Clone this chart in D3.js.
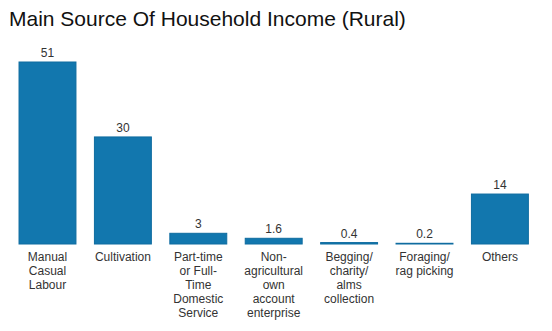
<!DOCTYPE html>
<html>
<head>
<meta charset="utf-8">
<script src="https://cdn.jsdelivr.net/npm/d3@7"></script>
<style>
  html, body { margin: 0; padding: 0; background: #fff; }
  svg { display: block; font-family: "Liberation Sans", Arial, Helvetica, sans-serif; }
</style>
</head>
<body>
<svg id="chart" width="552" height="331"></svg>
<script>
const title = "Main Source Of Household Income (Rural)";
const categories = [
  "Manual\nCasual\nLabour",
  "Cultivation",
  "Part-time\nor Full-\nTime\nDomestic\nService",
  "Non-\nagricultural\nown\naccount\nenterprise",
  "Begging/\ncharity/\nalms\ncollection",
  "Foraging/\nrag picking",
  "Others"
];
const values = [51, 30, 3, 1.6, 0.4, 0.2, 14];
const valueLabels = ["51", "30", "3", "1.6", "0.4", "0.2", "14"];

const svg = d3.select("#chart");
const baseY = 244;
const topY = 62;

const x = d3.scaleBand()
  .domain(d3.range(categories.length))
  .range([9.6, 537.8])
  .paddingInner(0.245)
  .paddingOuter(0.125);

const y = d3.scaleLinear()
  .domain([0, 51])
  .range([baseY, topY]);

svg.append("text")
  .attr("x", 9)
  .attr("y", 26)
  .attr("font-size", 21)
  .attr("fill", "#111")
  .text(title);

svg.append("g").selectAll("rect")
  .data(values)
  .join("rect")
  .attr("x", (d, i) => x(i))
  .attr("y", d => y(d))
  .attr("width", x.bandwidth())
  .attr("height", d => baseY - y(d))
  .attr("fill", "#1277ae")
  .attr("stroke", "#0f6ca0")
  .attr("stroke-width", 1);

svg.append("g").selectAll("text")
  .data(values)
  .join("text")
  .attr("x", (d, i) => x(i) + x.bandwidth() / 2)
  .attr("y", d => y(d) - 5)
  .attr("text-anchor", "middle")
  .attr("font-size", 12)
  .attr("fill", "#333")
  .text((d, i) => valueLabels[i]);

const lab = svg.append("g").selectAll("text")
  .data(categories)
  .join("text")
  .attr("x", (d, i) => x(i) + x.bandwidth() / 2)
  .attr("y", 261)
  .attr("text-anchor", "middle")
  .attr("font-size", 12)
  .attr("fill", "#333");
lab.each(function(d) {
  const t = d3.select(this);
  const cx = t.attr("x");
  d.split("\n").forEach((line, k) => {
    t.append("tspan").attr("x", cx).attr("dy", k === 0 ? 0 : 14).text(line);
  });
});
</script>
</body>
</html>
